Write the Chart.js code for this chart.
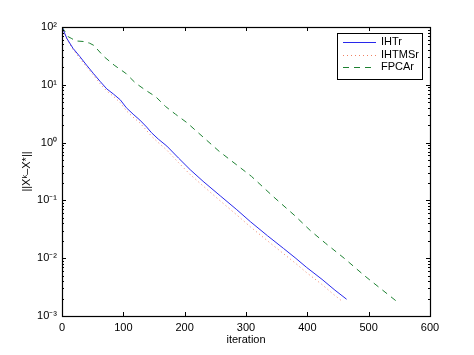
<!DOCTYPE html>
<html>
<head>
<meta charset="utf-8">
<script src="https://cdn.jsdelivr.net/npm/chart.js@4.4.0/dist/chart.umd.min.js"></script>
<style>
  html, body { margin: 0; padding: 0; background: #fff; }
  #wrap { width: 474px; height: 355px; position: relative; }
</style>
</head>
<body>
<div id="wrap"><canvas id="c" width="474" height="355"></canvas></div>
<script>
// ---- data ----
const ihtrIter = [0,8,18,29,40,51,62,73,84,95,105,116,127,138,146,157,171,190,209,230,258,285,307,335,361,380,399,424,445,464];
const ihtrVal  = [100,63,42.7,30.9,21.9,15.8,11.5,8.5,6.9,5.5,4.0,3.1,2.45,1.86,1.48,1.15,0.87,0.54,0.34,0.214,0.12,0.069,0.043,0.0245,0.0148,0.0102,0.0069,0.0043,0.0028,0.00195];

const ihtmsrIter = [0,8,18,29,40,51,62,73,84,95,105,116,127,138,146,157,171,190,209,230,258,285,307,335,361,380,399,424,440,455];
const ihtmsrVal  = [100,61.7,40.7,28.8,20.4,14.8,10.5,7.8,6.3,4.9,3.55,2.75,2.19,1.62,1.29,1.0,0.74,0.45,0.28,0.178,0.098,0.056,0.035,0.02,0.012,0.0083,0.0056,0.0035,0.0025,0.00186];

const fpcarIter = [0,10,16,22,36,45,52,68,85,104,120,136,153,169,185,204,220,256,309,345,380,405,430,460,494,520,546];
const fpcarVal  = [100,68,63,57.5,56,52.5,48,31,21.9,15.8,10.7,8.1,6.2,4.2,3.1,2.2,1.55,0.71,0.26,0.115,0.054,0.030,0.018,0.010,0.0049,0.00295,0.00178];

const seriesNames = ['IHTr', 'IHTMSr', 'FPCAr'];
const xTicks = [0,100,200,300,400,500,600];
const yTicks = [100,10,1,0.1,0.01,0.001];
const yTickLabels = {'100':'10\u00B2','10':'10\u00B9','1':'10\u2070','0.1':'10\u207B\u00B9','0.01':'10\u207B\u00B2','0.001':'10\u207B\u00B3'};
const xTitle = 'iteration';
const yTitle = '||X\u1D4F\u2013X*||';

const FONT = '"Liberation Sans", Arial, Helvetica, sans-serif';

function pts(xs, ys) { return xs.map((x, i) => ({x: x, y: ys[i]})); }

const framePlugin = {
  id: 'frame',
  afterDatasetsDraw(chart) {
    const {ctx, chartArea: a, scales} = chart;
    const xs = scales.x, ys = scales.y;
    ctx.save();
    ctx.strokeStyle = '#000';
    ctx.lineWidth = 1;
    // inward ticks
    ctx.beginPath();
    xTicks.forEach(v => {
      const px = Math.round(xs.getPixelForValue(v)) + 0.5;
      ctx.moveTo(px, a.bottom); ctx.lineTo(px, a.bottom - 4);
      ctx.moveTo(px, a.top); ctx.lineTo(px, a.top + 4);
    });
    for (let e = -3; e <= 2; e++) {
      for (let m = 1; m <= 9; m++) {
        const v = m * Math.pow(10, e);
        if (v > 100 + 1e-9) continue;
        const py = Math.round(ys.getPixelForValue(v)) + 0.5;
        const len = (m === 1) ? 4 : 2;
        ctx.moveTo(a.left, py); ctx.lineTo(a.left + len, py);
        ctx.moveTo(a.right, py); ctx.lineTo(a.right - len, py);
      }
    }
    ctx.stroke();
    ctx.lineWidth = 1.2;
    ctx.strokeRect(Math.round(a.left) + 0.5, Math.round(a.top) + 0.5,
                   Math.round(a.right - a.left), Math.round(a.bottom - a.top));

    // axis titles
    ctx.fillStyle = '#000';
    ctx.font = '11px ' + FONT;
    ctx.textAlign = 'center';
    ctx.textBaseline = 'middle';
    ctx.fillText(xTitle, (a.left + a.right) / 2, 339.5);
    ctx.save();
    ctx.translate(26.5, (a.top + a.bottom) / 2);
    ctx.rotate(-Math.PI / 2);
    ctx.fillText(yTitle, 0, 0);
    ctx.restore();

    // legend box
    const bx = 337, by = 33, bw = 85, bh = 46;
    ctx.fillStyle = '#fff';
    ctx.fillRect(bx, by, bw, bh);
    ctx.lineWidth = 1;
    ctx.strokeRect(bx + 0.5, by + 0.5, bw, bh);
    ctx.font = '11px ' + FONT;
    ctx.textBaseline = 'middle';
    ctx.textAlign = 'left';
    const rows = [42, 54.5, 67];
    chart.data.datasets.forEach((ds, i) => {
      const yy = rows[i];
      ctx.save();
      ctx.strokeStyle = ds.borderColor;
      ctx.lineWidth = ds.borderWidth;
      ctx.setLineDash(ds.borderDash || []);
      ctx.beginPath();
      ctx.moveTo(343, Math.round(yy) + 0.5); ctx.lineTo(376, Math.round(yy) + 0.5);
      ctx.stroke();
      ctx.restore();
      ctx.fillStyle = '#000';
      ctx.fillText(ds.label, 381, yy);
    });
    ctx.restore();
  }
};

new Chart(document.getElementById('c'), {
  type: 'line',
  data: {
    datasets: [
      { label: seriesNames[0], data: pts(ihtrIter, ihtrVal), borderColor: 'rgb(40,40,235)', borderWidth: 1, pointRadius: 0, tension: 0, fill: false },
      { label: seriesNames[1], data: pts(ihtmsrIter, ihtmsrVal), borderColor: 'rgb(240,130,100)', borderWidth: 1, borderDash: [1, 3], pointRadius: 0, tension: 0, fill: false },
      { label: seriesNames[2], data: pts(fpcarIter, fpcarVal), borderColor: 'rgb(30,130,50)', borderWidth: 1, borderDash: [6, 5], pointRadius: 0, tension: 0, fill: false }
    ]
  },
  options: {
    responsive: false,
    animation: false,
    devicePixelRatio: 1,
    layout: { padding: { left: 0, top: 27, right: 44, bottom: 0 } },
    plugins: { legend: { display: false }, tooltip: { enabled: false } },
    scales: {
      x: {
        type: 'linear', min: 0, max: 600,
        afterBuildTicks(s) { s.ticks = xTicks.map(v => ({value: v})); },
        afterFit(s) { s.height = 39; },
        grid: { display: false, drawTicks: false },
        border: { display: false },
        ticks: { color: '#000', padding: 5, font: { family: FONT, size: 11 }, maxRotation: 0 },
        title: { display: false }
      },
      y: {
        type: 'logarithmic', min: 0.001, max: 100,
        afterBuildTicks(s) { s.ticks = yTicks.map(v => ({value: v})); },
        afterFit(s) { s.width = 62; },
        grid: { display: false, drawTicks: false },
        border: { display: false },
        ticks: { color: '#000', padding: 5, font: { family: FONT, size: 11 },
          callback: (v) => yTickLabels[String(v)] || '' },
        title: { display: false }
      }
    }
  },
  plugins: [framePlugin]
});
</script>
</body>
</html>
